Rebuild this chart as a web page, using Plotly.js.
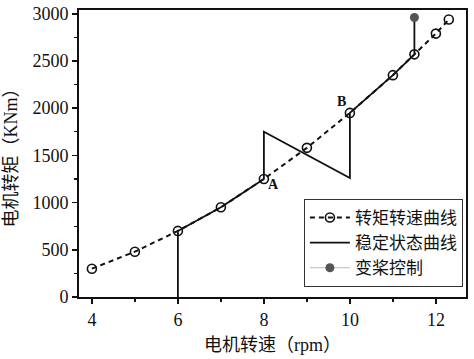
<!DOCTYPE html>
<html>
<head>
<meta charset="utf-8">
<script src="https://cdn.plot.ly/plotly-3.0.1.min.js"></script>
<style>html,body{margin:0;padding:0;background:#fff;}#chart{width:474px;height:359px;}</style>
</head>
<body>
<div id="chart"></div>
<script>
// Torque-speed curve (dashed, open circles)
const curveSpeed = [4, 5, 6, 7, 8, 9, 10, 11, 11.5, 12, 12.3];
const curveTorque = [300, 480, 700, 950, 1250, 1580, 1950, 2350, 2570, 2790, 2940];
// Steady-state curve (solid)
const steadySpeed = [6, 6, 7, 8, 8, 10, 10, 11, 11.5, 11.5];
const steadyTorque = [0, 700, 950, 1250, 1750, 1260, 1950, 2350, 2570, 2960];
// Pitch control point
const pitchSpeed = [11.5];
const pitchTorque = [2960];
// Point labels
const labelText = ['A', 'B'];
const labelSpeed = [8.22, 9.8];
const labelTorque = [1190, 2070];

const names = ['转矩转速曲线', '稳定状态曲线', '变桨控制'];
const xTitle = '电机转速（rpm）';
const yTitle = '电机转矩（KNm）';

const FONT = "'Liberation Serif', 'Noto Sans CJK SC', serif";

const traces = [
  {
    x: curveSpeed, y: curveTorque, name: names[0], mode: 'lines+markers', type: 'scatter',
    line: {color: '#111', width: 2, dash: '5px,4px'},
    marker: {symbol: 'circle-open', size: 9, color: '#111', line: {width: 1.6, color: '#111'}}
  },
  {
    x: steadySpeed, y: steadyTorque, name: names[1], mode: 'lines', type: 'scatter',
    line: {color: '#111', width: 1.8}
  },
  {
    x: pitchSpeed, y: pitchTorque, name: names[2], mode: 'lines+markers', type: 'scatter',
    line: {color: '#bbb', width: 1},
    marker: {symbol: 'circle', size: 9, color: '#555'}
  }
];

const annotations = labelText.map((t, i) => ({
  x: labelSpeed[i], y: labelTorque[i], xref: 'x', yref: 'y', text: '<b>' + t + '</b>',
  showarrow: false, font: {family: FONT, size: 14, color: '#111'}
}));

const layout = {
  width: 474, height: 359,
  margin: {l: 79, r: 8, t: 10, b: 62},
  paper_bgcolor: '#fff', plot_bgcolor: '#fff',
  font: {family: FONT, size: 18, color: '#111'},
  showlegend: true,
  legend: {
    x: 0.992, y: 0.035, xanchor: 'right', yanchor: 'bottom',
    bgcolor: '#fff', bordercolor: '#333', borderwidth: 1,
    font: {family: FONT, size: 17, color: '#111'},
    itemwidth: 40, tracegroupgap: 0
  },
  xaxis: {
    range: [3.7, 12.7], tickvals: [4, 6, 8, 10, 12], ticks: 'outside', ticklen: 5, tickwidth: 1.5,
    tickcolor: '#111', showline: true, linecolor: '#111', linewidth: 2, mirror: true,
    showgrid: false, zeroline: false,
    minor: {dtick: 1, tick0: 4, ticks: 'outside', ticklen: 3, tickwidth: 1.2, tickcolor: '#111', showgrid: false},
    tickfont: {family: FONT, size: 18, color: '#111'},
    title: {text: xTitle, font: {family: FONT, size: 18, color: '#111'}, standoff: 10}
  },
  yaxis: {
    range: [0, 3040], tickvals: [0, 500, 1000, 1500, 2000, 2500, 3000], ticks: 'outside', ticklen: 5, tickwidth: 1.5,
    tickcolor: '#111', showline: true, linecolor: '#111', linewidth: 2, mirror: true,
    showgrid: false, zeroline: false,
    minor: {dtick: 250, tick0: 0, ticks: 'outside', ticklen: 3, tickwidth: 1.2, tickcolor: '#111', showgrid: false},
    tickfont: {family: FONT, size: 18, color: '#111'},
    title: {text: yTitle, font: {family: FONT, size: 18, color: '#111'}, standoff: 10}
  },
  annotations: annotations
};

Plotly.newPlot('chart', traces, layout, {displayModeBar: false, staticPlot: true});
</script>
</body>
</html>
